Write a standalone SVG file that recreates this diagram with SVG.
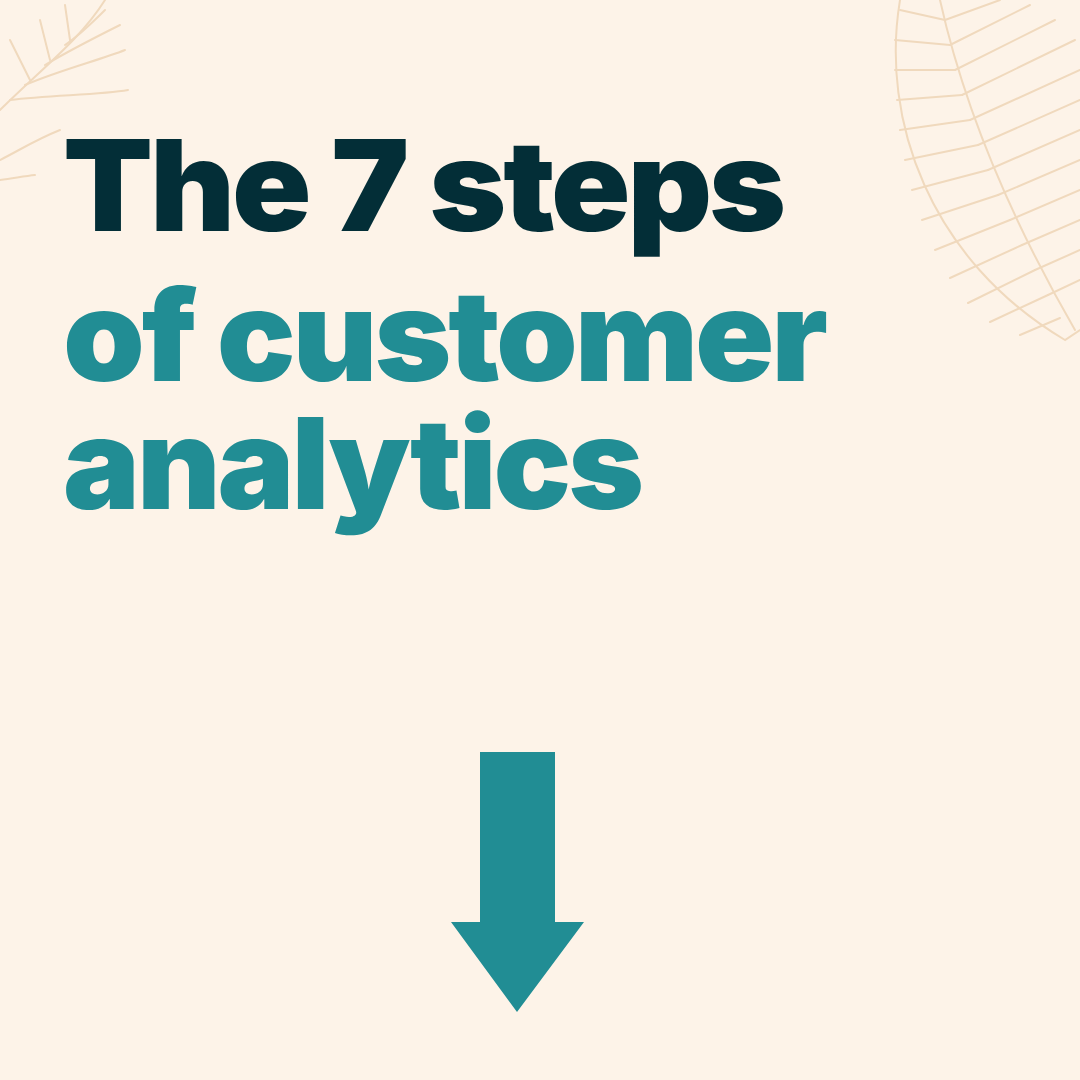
<svg xmlns="http://www.w3.org/2000/svg" width="1080" height="1080" viewBox="0 0 1080 1080">
<style>
.t{font-family:Inter,"Liberation Sans",sans-serif;font-weight:900;font-size:126px;letter-spacing:-3px}
.leaf{fill:none;stroke:#f0d9bd;stroke-width:2;stroke-linecap:round}
</style>
<rect width="1080" height="1080" fill="#fdf3e8"/>
<g id="leaf-right" class="leaf">
<path d="M900,0 C880,120 930,260 1065,340 L1080,330"/>
<path d="M940,0 C960,90 1000,200 1075,330"/>
<path d="M945,20 L1000,0 M950,45 L1030,5 M955,70 L1055,20 M962,95 L1075,40 M970,120 L1080,70 M978,145 L1080,100 M988,170 L1080,130 M998,195 L1080,160 M1010,220 L1080,190 M1022,245 L1080,220 M1035,270 L1080,250 M1048,295 L1080,280"/>
<path d="M945,20 L900,10 M950,45 L895,40 M955,70 L895,70 M962,95 L897,100 M970,120 L900,130 M978,145 L905,160 M988,170 L912,190 M998,195 L922,220 M1010,220 L935,250 M1022,245 L950,278 M1035,270 L968,303 M1048,295 L990,322 M1060,318 L1020,335"/>
</g>
<g id="leaf-left" class="leaf">
<path d="M0,110 C40,70 80,40 105,0"/>
<path d="M10,100 C50,95 100,95 128,90 M25,85 C60,70 100,60 125,50 M45,65 C70,50 100,35 120,25 M65,45 C80,35 95,20 105,10 M0,160 C20,150 35,140 60,130 M0,180 C15,178 25,176 35,175"/>
<path d="M30,80 L10,40 M50,60 L40,20 M70,40 L65,5"/>
</g>
<g id="title">
<text class="t" x="63" y="231" fill="#032e37" textLength="720" lengthAdjust="spacingAndGlyphs">The 7 steps</text>
<text class="t" x="63" y="381" fill="#218d94" textLength="762" lengthAdjust="spacingAndGlyphs">of customer</text>
<text class="t" x="63" y="509" fill="#218d94" textLength="578" lengthAdjust="spacingAndGlyphs">analytics</text>
</g>
<g id="arrow">
<path d="M480,752 H555 V922 H584 L517,1012 L451,922 H480 Z" fill="#218d94"/>
</g>
</svg>
